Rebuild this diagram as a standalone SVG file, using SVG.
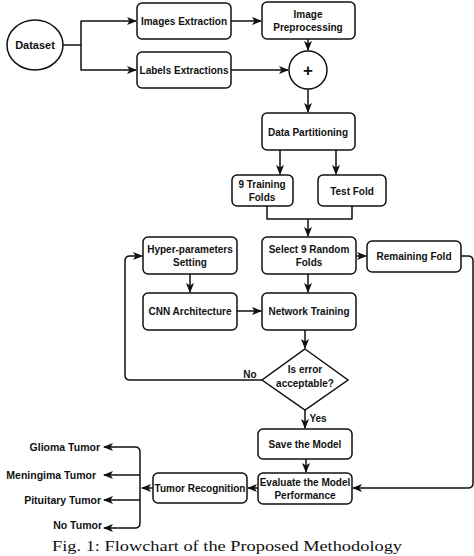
<svg xmlns="http://www.w3.org/2000/svg" width="474" height="556" viewBox="0 0 474 556">
<defs>
<marker id="ah" viewBox="0 0 10 8" refX="9" refY="4" markerWidth="10" markerHeight="8" markerUnits="userSpaceOnUse" orient="auto">
<path d="M0,0 L10,4 L0,8 L2.5,4 z" fill="#111"/>
</marker>
<style>
.bx{fill:#fff;stroke:#111;stroke-width:1.5}
.t{font-family:"Liberation Sans",Arial,sans-serif;font-weight:bold;font-size:10px;fill:#111;text-anchor:middle}
.tr{font-family:"Liberation Sans",Arial,sans-serif;font-weight:bold;font-size:10.5px;fill:#111;text-anchor:end}
.c{fill:none;stroke:#111;stroke-width:1.5;stroke-linejoin:round}
.a{marker-end:url(#ah)}
</style>
</defs>
<rect width="474" height="556" fill="#fff"/>
<g id="connectors">
<path class="c" d="M63,45 H81"/>
<path class="c a" d="M81,45 V21 H136"/>
<path class="c a" d="M81,45 V70 H136"/>
<path class="c a" d="M231,21 H261"/>
<path class="c a" d="M231,70 H288"/>
<path class="c a" d="M308,39 V50"/>
<path class="c a" d="M308,89 V112"/>
<path class="c a" d="M280,150 V174"/>
<path class="c a" d="M336,150 V174"/>
<path class="c" d="M267,206 V219 H352 V206"/>
<path class="c a" d="M308,219 V236"/>
<path class="c a" d="M356,256 H366"/>
<path class="c a" d="M461,256 H468 Q473,256 473,261 V483 Q473,488 468,488 H353"/>
<path class="c a" d="M190,274 V292"/>
<path class="c a" d="M237,311 H261"/>
<path class="c a" d="M308,274 V292"/>
<path class="c a" d="M305,330 V348"/>
<path class="c a" d="M262,380 H130 Q125,380 125,375 V261 Q125,256 130,256 H142"/>
<path class="c a" d="M305,410 V428"/>
<path class="c a" d="M306,459 V472"/>
<path class="c a" d="M258,488 H248"/>
<path class="c a" d="M153,488 H142"/>
<path class="c a" d="M140,452 Q140,447 135,447 H104"/>
<path class="c" d="M140,452 V523"/>
<path class="c a" d="M140,475 H104"/>
<path class="c a" d="M140,500 H104"/>
<path class="c a" d="M140,523 Q140,528 135,528 H104"/>
</g>
<g id="dataset"><ellipse class="bx" cx="35" cy="45" rx="28" ry="25"/><text class="t" x="35" y="49" style="font-size:11px">Dataset</text></g>
<g id="images-extraction"><rect class="bx" x="137" y="3" width="94" height="36" rx="5"/><text class="t" x="184" y="25">Images Extraction</text></g>
<g id="labels-extractions"><rect class="bx" x="137" y="52" width="94" height="36" rx="5"/><text class="t" x="184" y="74">Labels Extractions</text></g>
<g id="image-preprocessing"><rect class="bx" x="262" y="2" width="93" height="37" rx="5"/><text class="t" x="308" y="18">Image</text><text class="t" x="308" y="31">Preprocessing</text></g>
<g id="combine"><circle class="bx" cx="308" cy="70" r="19"/><text class="t" x="308" y="76" style="font-size:17px">+</text></g>
<g id="data-partitioning"><rect class="bx" x="262" y="113" width="93" height="37" rx="5"/><text class="t" x="308" y="136">Data Partitioning</text></g>
<g id="training-folds"><rect class="bx" x="232" y="175" width="61" height="31" rx="5"/><text class="t" x="262" y="188">9 Training</text><text class="t" x="262" y="201">Folds</text></g>
<g id="test-fold"><rect class="bx" x="318" y="175" width="68" height="31" rx="5"/><text class="t" x="352" y="195">Test Fold</text></g>
<g id="select-folds"><rect class="bx" x="262" y="237" width="94" height="37" rx="5"/><text class="t" x="309" y="253">Select 9 Random</text><text class="t" x="309" y="266">Folds</text></g>
<g id="remaining-fold"><rect class="bx" x="367" y="241" width="94" height="31" rx="5"/><text class="t" x="414" y="260">Remaining Fold</text></g>
<g id="hyper-parameters"><rect class="bx" x="143" y="237" width="94" height="37" rx="5"/><text class="t" x="190" y="253">Hyper-parameters</text><text class="t" x="190" y="266">Setting</text></g>
<g id="cnn-architecture"><rect class="bx" x="143" y="293" width="94" height="37" rx="5"/><text class="t" x="190" y="315">CNN Architecture</text></g>
<g id="network-training"><rect class="bx" x="262" y="293" width="94" height="37" rx="5"/><text class="t" x="309" y="315">Network Training</text></g>
<g id="decision"><path class="bx" d="M305,349 L348,380 L305,410 L262,380 z"/><text class="t" x="305" y="373">Is error</text><text class="t" x="305" y="387">acceptable?</text></g>
<g id="labels"><text class="t" x="250" y="378">No</text><text class="t" x="318" y="422">Yes</text></g>
<g id="save-model"><rect class="bx" x="258" y="429" width="94" height="30" rx="5"/><text class="t" x="305" y="448">Save the Model</text></g>
<g id="evaluate"><rect class="bx" x="258" y="473" width="94" height="31" rx="5"/><text class="t" x="305" y="486">Evaluate the Model</text><text class="t" x="305" y="499">Performance</text></g>
<g id="tumor-recognition"><rect class="bx" x="153" y="473" width="94" height="30" rx="5"/><text class="t" x="200" y="492">Tumor Recognition</text></g>
<g id="outputs">
<text class="tr" x="100" y="451">Glioma Tumor</text>
<text class="tr" x="96" y="479">Meningima Tumor</text>
<text class="tr" x="101" y="504">Pituitary Tumor</text>
<text class="tr" x="102" y="529">No Tumor</text>
</g>
<text x="52" y="551" textLength="350" lengthAdjust="spacingAndGlyphs" style="font-family:'Liberation Serif','Times New Roman',serif;font-size:14px;fill:#111">Fig. 1: Flowchart of the Proposed Methodology</text>
</svg>
